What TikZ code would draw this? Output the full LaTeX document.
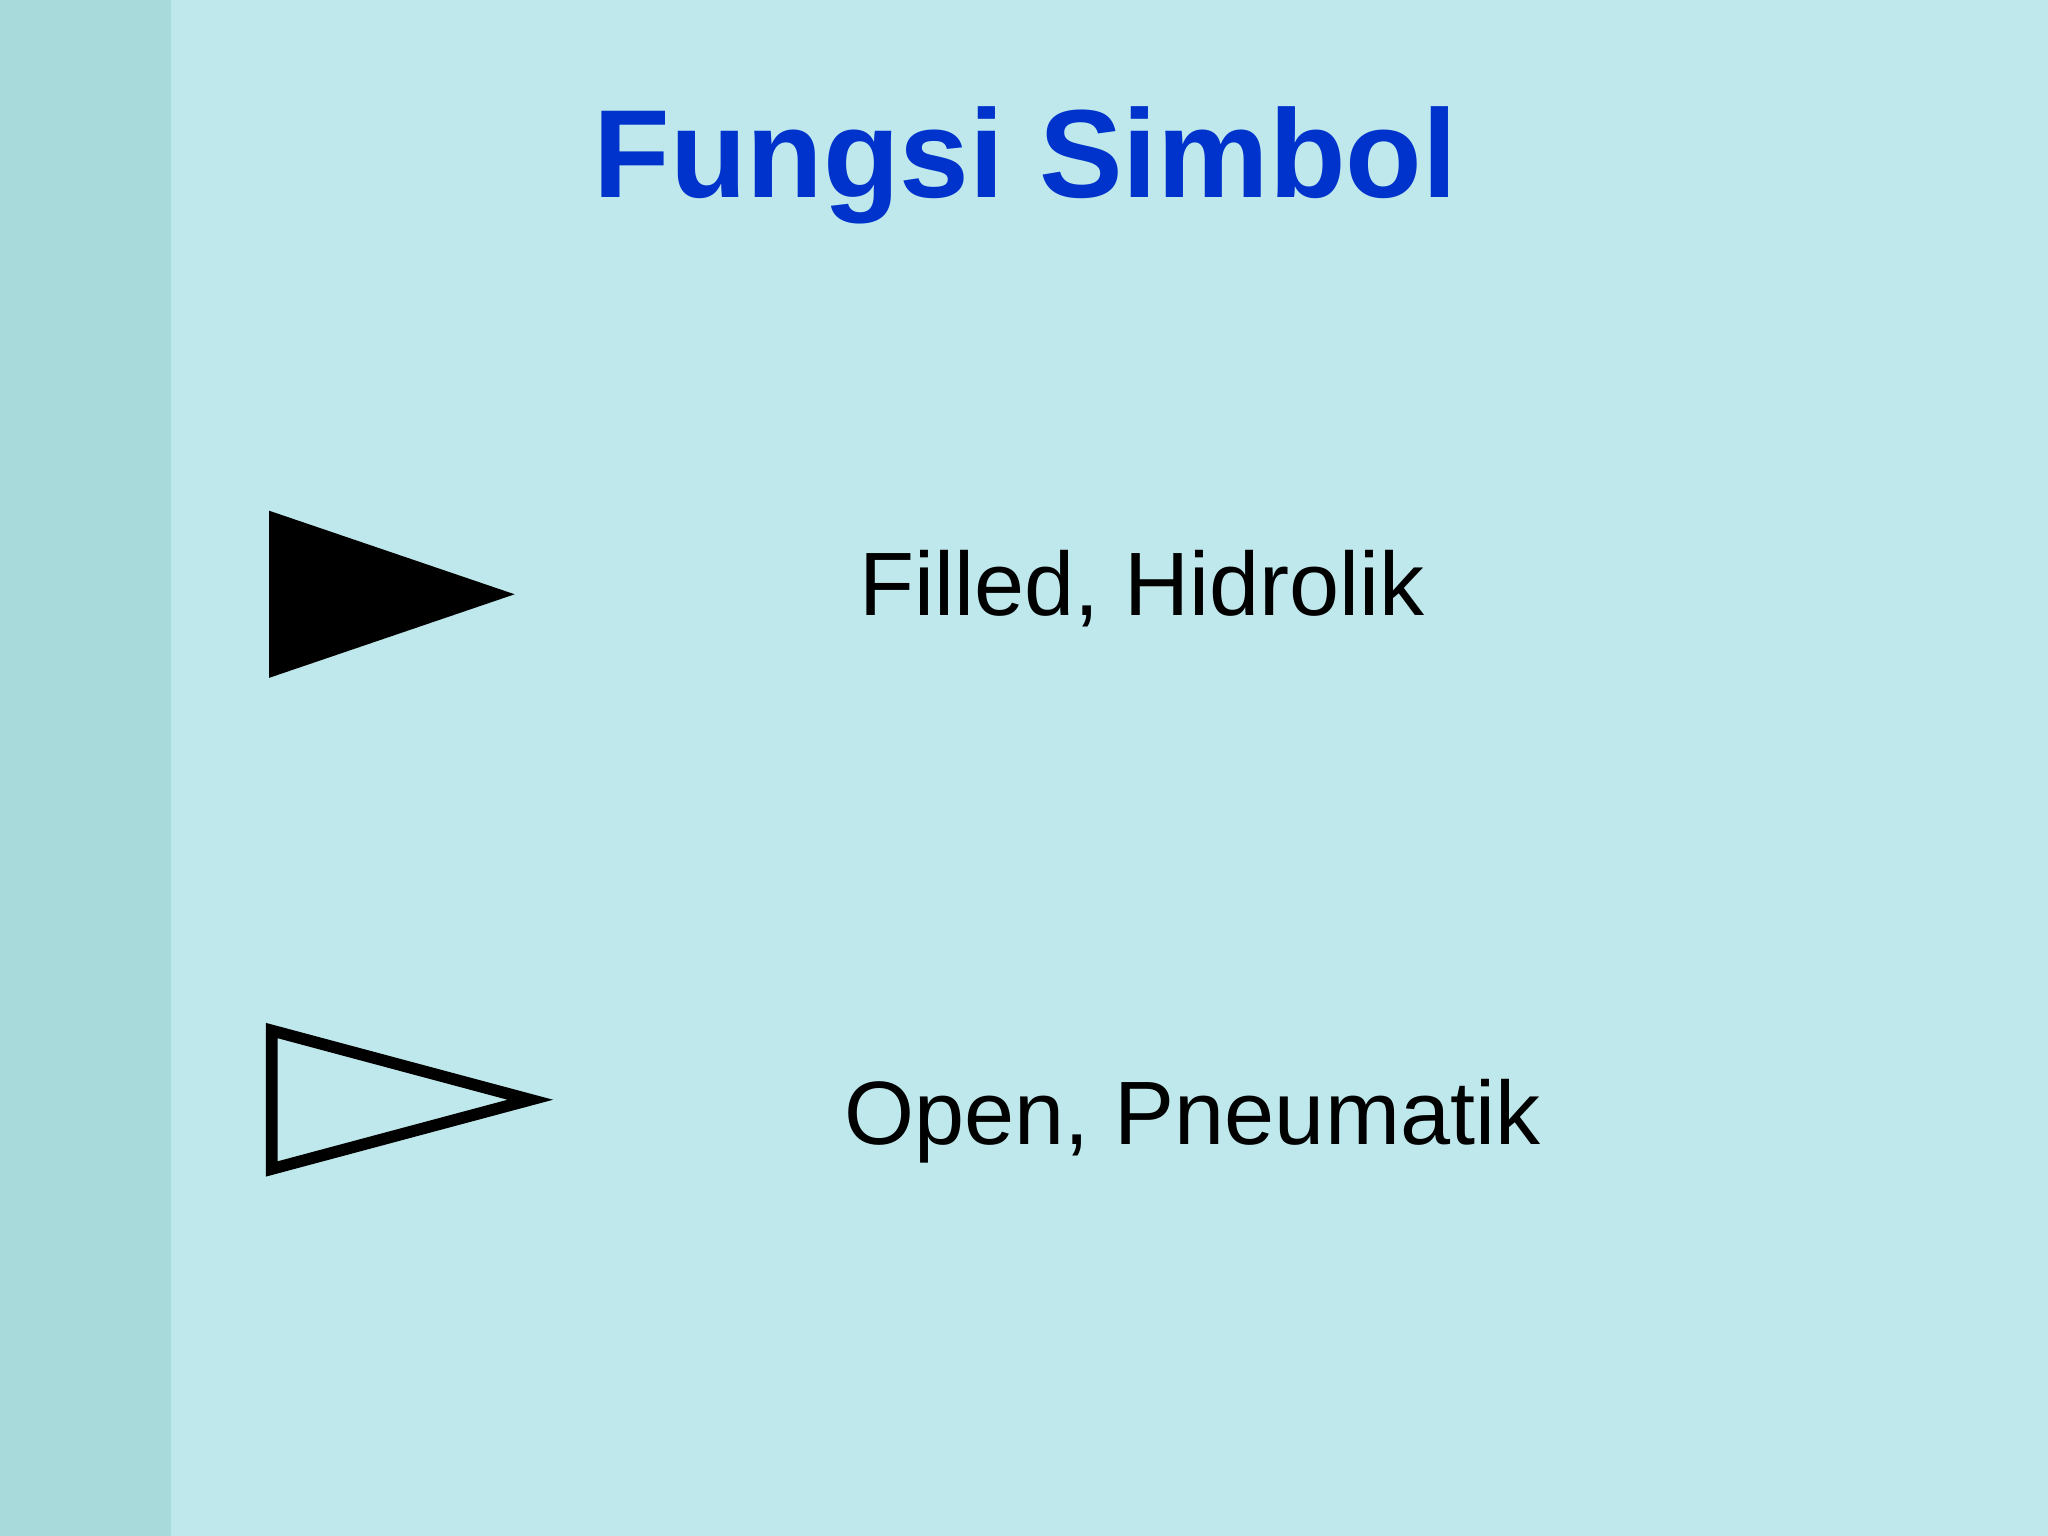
\documentclass[tikz,border=0pt]{standalone}
\usepackage{fontspec}
\setmainfont{Liberation Sans}
\definecolor{bgmain}{HTML}{BFE8EC}
\definecolor{bgstrip}{HTML}{A8DADC}
\definecolor{titleblue}{HTML}{0033CC}
\tikzset{label/.style={anchor=base west,inner sep=0pt,font=\fontsize{19.6pt}{23pt}\selectfont}}
\begin{document}
\begin{tikzpicture}[x=0.01cm,y=-0.01cm]
\useasboundingbox (0,0) rectangle (1568,1176);
\fill[bgmain] (0,0) rectangle (1568,1176);
\fill[bgstrip] (0,0) rectangle (131,1176);
\node[anchor=base,inner sep=0pt,text=titleblue,font=\bfseries\fontsize{27.3pt}{32pt}\selectfont] (title) at (785,151) {Fungsi Simbol};
\fill[black] (206,391) -- (394,455) -- (206,519) -- cycle;
\node[label] (filled) at (657,471) {Filled, Hidrolik};
\draw[black,line width=0.09cm,line join=miter] (208,789) -- (406,842) -- (208,895) -- cycle;
\node[label] (open) at (646,876) {Open, Pneumatik};
\end{tikzpicture}
\end{document}
